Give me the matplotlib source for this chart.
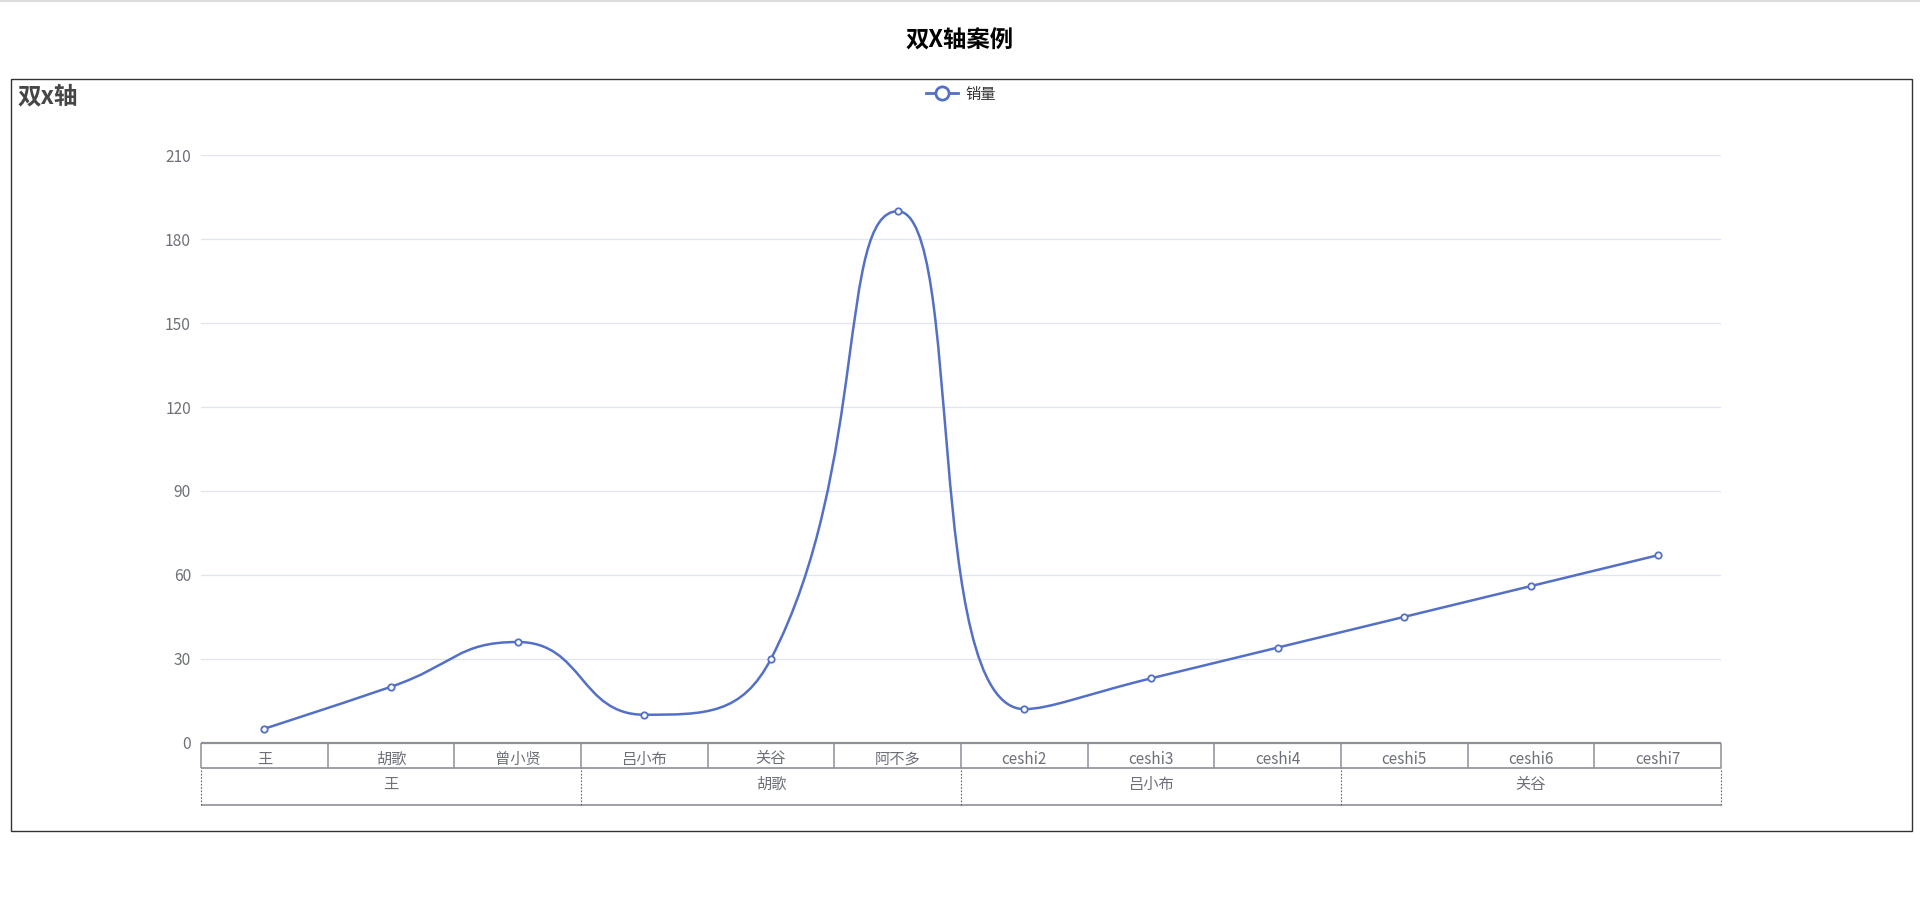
import numpy as np
import matplotlib
matplotlib.use("Agg")
import matplotlib.pyplot as plt
from matplotlib.path import Path
from matplotlib.patches import PathPatch, Rectangle
from matplotlib.lines import Line2D

plt.rcParams['font.family'] = ['Noto Sans CJK SC', 'DejaVu Sans']

TITLE = "双X轴案例"
SUBTITLE = "双x轴"
SERIES_NAME = "销量"
categories = ["王", "胡歌", "曾小贤", "吕小布", "关谷", "阿不多",
              "ceshi2", "ceshi3", "ceshi4", "ceshi5", "ceshi6", "ceshi7"]
sales = [5, 20, 36, 10, 30, 190, 12, 23, 34, 45, 56, 67]
groups = ["王", "胡歌", "吕小布", "关谷"]
group_size = 3
y_ticks = [0, 30, 60, 90, 120, 150, 180, 210]

LINE_COLOR = "#5470C6"
AXIS_TEXT = "#6E7079"
GRID_COLOR = "#E0E6F1"
TABLE_LINE = "#8E9099"

W, H = 1920, 902


def fx(px):
    return px / W


def fy(py):
    return 1 - py / H


def smooth_path(xs, ys, sx, sy, smooth=0.5):
    # echarts style smoothing, done in pixel space then mapped back to data
    pts = [(x * sx, y * sy) for x, y in zip(xs, ys)]
    verts = [pts[0]]
    codes = [Path.MOVETO]
    cp0 = pts[0]
    n = len(pts)
    for i in range(1, n):
        x, y = pts[i]
        px, py = pts[i - 1]
        if i == n - 1:
            cp1 = (x, y)
            next_cp0 = None
        else:
            nx, ny = pts[i + 1]
            vx, vy = nx - px, ny - py
            len_prev = np.hypot(x - px, y - py)
            len_next = np.hypot(nx - x, ny - y)
            ratio = len_next / (len_next + len_prev)
            ncx = x + vx * smooth * ratio
            ncy = y + vy * smooth * ratio
            ncx = max(min(ncx, max(nx, x)), min(nx, x))
            ncy = max(min(ncy, max(ny, y)), min(ny, y))
            vx, vy = ncx - x, ncy - y
            c1x = x - vx * len_prev / len_next
            c1y = y - vy * len_prev / len_next
            c1x = max(min(c1x, max(px, x)), min(px, x))
            c1y = max(min(c1y, max(py, y)), min(py, y))
            vx, vy = x - c1x, y - c1y
            next_cp0 = (x + vx * len_next / len_prev, y + vy * len_next / len_prev)
            cp1 = (c1x, c1y)
        verts += [cp0, cp1, (x, y)]
        codes += [Path.CURVE4] * 3
        cp0 = next_cp0
    verts = [(a / sx, b / sy) for a, b in verts]
    return Path(verts, codes)


fig = plt.figure(figsize=(W / 100, H / 100), dpi=100)

# page decorations
fig.add_artist(Line2D([0, 1], [fy(0.8), fy(0.8)], color="#dddddd", lw=1.5))
fig.add_artist(Rectangle((fx(10.7), fy(830.7)), (1912 - 10.7) / W, (830.7 - 79.3) / H,
                         transform=fig.transFigure, fill=False, ec="#333333", lw=1))
fig.text(fx(960), fy(41), TITLE, ha="center", va="center", fontsize=16.8,
         fontweight="bold", color="black")
fig.text(fx(17), fy(96), SUBTITLE, ha="left", va="center", fontsize=17,
         fontweight="bold", color="#464646")

# main plot
left, right, top, bottom = 201, 1721, 155.3, 742.7
ax = fig.add_axes([fx(left), fy(bottom), (right - left) / W, (bottom - top) / H])
ax.set_xlim(-0.5, len(categories) - 0.5)
ax.set_ylim(y_ticks[0], y_ticks[-1])
ax.set_yticks(y_ticks)
ax.set_xticks([])
for s in ax.spines.values():
    s.set_visible(False)
ax.grid(axis="y", color=GRID_COLOR, lw=0.9)
ax.set_axisbelow(True)
ax.tick_params(axis="y", length=0, pad=7.2, labelsize=11.2, labelcolor=AXIS_TEXT)

xs = np.arange(len(categories))
sx = (right - left) / len(categories)
sy = (bottom - top) / (y_ticks[-1] - y_ticks[0])
path = smooth_path(xs, sales, sx, sy)
ax.add_patch(PathPatch(path, facecolor="none", edgecolor=LINE_COLOR, lw=1.8, zorder=3))
ax.plot(xs, sales, linestyle="none", marker="o", ms=4.6, mfc="white",
        mec=LINE_COLOR, mew=1.3, zorder=4, clip_on=False)

# legend
handle = Line2D([0], [0], color=LINE_COLOR, lw=2, marker="o", ms=9.5,
                mfc="white", mew=2)
fig.legend(handles=[handle], labels=[SERIES_NAME], loc="center",
           bbox_to_anchor=(fx(961), fy(94)), frameon=False, handlelength=2.1,
           handletextpad=0.5, fontsize=11, labelcolor="#333333")

# two level category table under the x axis
tbl_h = 805.3 - bottom
split = 805.3 - 767.7
tbl = fig.add_axes([fx(left), fy(805.3), (right - left) / W, tbl_h / H])
tbl.set_xlim(-0.5, len(categories) - 0.5)
tbl.set_ylim(0, tbl_h)
tbl.axis("off")

cell_edges = np.arange(len(categories) + 1) - 0.5
group_edges = np.arange(0, len(categories) + 1, group_size) - 0.5
group_centers = (group_edges[:-1] + group_edges[1:]) / 2

tbl.hlines(tbl_h, -0.5, len(categories) - 0.5, color=TABLE_LINE, lw=1.6, clip_on=False)
tbl.hlines(split, -0.5, len(categories) - 0.5, color=TABLE_LINE, lw=1.2, clip_on=False)
tbl.hlines(0, -0.5, len(categories) - 0.5, color=TABLE_LINE, lw=1.2, clip_on=False)
tbl.vlines(cell_edges, split, tbl_h, color=TABLE_LINE, lw=1.1, clip_on=False)
tbl.vlines(group_edges, 0, split, color="#666666", lw=0.8, linestyles=(0, (1.5, 1.5)),
           clip_on=False)

for x, name in zip(xs, categories):
    tbl.text(x, 805.3 - 759, name, ha="center", va="center", fontsize=11,
             color=AXIS_TEXT)
for x, name in zip(group_centers, groups):
    tbl.text(x, 805.3 - 784, name, ha="center", va="center", fontsize=11,
             color=AXIS_TEXT)

fig.savefig("out.png", dpi=100)
